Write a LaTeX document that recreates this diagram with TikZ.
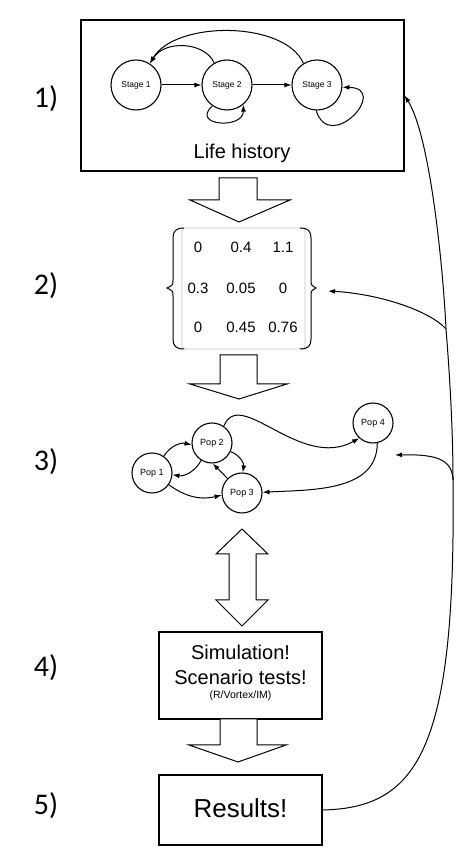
\documentclass[tikz,border=0pt]{standalone}
\usepackage{fontspec}
\setmainfont{Liberation Sans}
\newfontfamily\labelfont{Carlito}
\usetikzlibrary{arrows.meta}

\tikzset{
  stage/.style={circle, draw, line width=1.1pt, minimum size=50pt, inner sep=0pt, font=\fontsize{8.5}{10}\selectfont},
  pop/.style={circle, draw, line width=1.1pt, minimum size=40pt, inner sep=0pt, font=\fontsize{9}{10}\selectfont},
  panel/.style={draw, line width=1.1pt, inner sep=0pt},
  hollow/.style={draw, line width=1pt, fill=white, line join=miter},
  steplabel/.style={font=\labelfont\fontsize{30}{32}\selectfont},
  entry/.style={font=\fontsize{15}{16}\selectfont},
}

\begin{document}
\begin{tikzpicture}[x=1pt, y=1pt, >={Latex[length=7pt,width=5pt]}, line width=1pt]
\useasboundingbox (0,0) rectangle (474,866);

% Step numbers
\node[steplabel] (n1) at (46,767) {1)};
\node[steplabel] (n2) at (46,580) {2)};
\node[steplabel] (n3) at (46,404) {3)};
\node[steplabel] (n4) at (46,198) {4)};
\node[steplabel] (n5) at (46,60) {5)};

% Life history
\node[panel, minimum width=323pt, minimum height=151pt] (lh) at (242.5,770.5) {};
\node[font=\fontsize{20}{22}\selectfont] (lhtext) at (242,713) {Life history};
\node[stage] (s1) at (136,781) {Stage 1};
\node[stage] (s2) at (227,781) {Stage 2};
\node[stage] (s3) at (317,781) {Stage 3};
\draw[->] (s1) -- (s2);
\draw[->] (s2) -- (s3);
\draw[->] (s2.120) .. controls +(-9.5,21) and +(15,24) .. (s1.57);
\draw[->] (s3.122) .. controls +(-19,43) and +(25,43) .. (s1.57);
\draw[->] (s2.235) .. controls +(-22,-20) and +(0,-25) .. (s2.-50);
\draw[->] (s3.-92) .. controls +(14,-44) and +(48,-1) .. (s3.-5);

% Hollow arrow down
\draw[hollow] (219,688) -- (257,688) -- (257,666) -- (290,666) -- (239,644) -- (190,666) -- (219,666) -- cycle;

% Matrix
\node[draw=gray!45, line width=0.8pt, rounded corners=3pt, minimum width=123pt, minimum height=121pt] (mat) at (243.5,577.5) {};
\foreach \v/\x/\y/\n in {0/198/619/m11, 0.4/241/619/m12, 1.1/283/619/m13,
                         0.3/198/578/m21, 0.05/241/578/m22, 0/283/578/m23,
                         0/198/539/m31, 0.45/241/539/m32, 0.76/283/539/m33}
  \node[entry] (\n) at (\x,\y) {\v};
% Braces
\draw (184,638) .. controls (176,638) and (173,635) .. (173,628) -- (173,586) .. controls (173,581) .. (167,578) .. controls (173,575) .. (173,570) -- (173,527) .. controls (173,520) and (176,517) .. (184,517);
\draw (300,638) .. controls (308,638) and (311,635) .. (311,628) -- (311,586) .. controls (311,581) .. (316,578) .. controls (311,575) .. (311,570) -- (311,527) .. controls (311,520) and (308,517) .. (300,517);

% Hollow arrow down
\draw[hollow] (220,511) -- (257,511) -- (257,482) -- (287,482) -- (239,467) -- (190,482) -- (220,482) -- cycle;

% Populations
\node[pop] (p1) at (152,393) {Pop 1};
\node[pop] (p2) at (212,423) {Pop 2};
\node[pop] (p3) at (242,373) {Pop 3};
\node[pop] (p4) at (373,443) {Pop 4};
\draw[->] (p1.55) to[bend left=35] (p2.185);
\draw[->] (p2.238) to[bend left=35] (p1.-5);
\draw[->] (p2.-25) to[bend left=40] (p3.88);
\draw[->] (p3.135) -- (p2.-88);
\draw[->] (p1.-35) to[bend right=25] (p3.186);
\draw[->] (p2.55) .. controls (240,480) and (300,395) .. (p4.228);
\draw[->] (p4.-78) to[out=-90, in=3] (p3.2);

% Double hollow arrow
\draw[hollow] (242,337) -- (268,312) -- (256,312) -- (256,266) -- (268,266) -- (242,240) -- (216,266) -- (229,266) -- (229,312) -- (216,312) -- cycle;

% Simulation
\node[panel, minimum width=163pt, minimum height=87pt] (sim) at (240.5,190.5) {};
\node[font=\fontsize{20}{22}\selectfont] (simtext) at (240.5,214) {Simulation!};
\node[font=\fontsize{20}{22}\selectfont] (scentext) at (240.5,189) {Scenario tests!};
\node[font=\fontsize{10.5}{12}\selectfont] (tooltext) at (240.5,170) {(R/Vortex/IM)};

% Hollow arrow down
\draw[hollow] (220,147) -- (257,147) -- (257,121) -- (286,121) -- (238,104) -- (189,121) -- (220,121) -- cycle;

% Results
\node[panel, minimum width=163pt, minimum height=70pt] (res) at (240.5,56) {};
\node[font=\fontsize{26}{28}\selectfont] (restext) at (240.5,58) {Results!};

% Feedback
\coordinate (j2) at (453,386);
\coordinate (j1) at (446,537);
\coordinate (mtip) at (328,575);
\coordinate (ptip) at (395,411);
\draw[->] (res.east) .. controls (420,58) and (456,120) .. (j2) .. controls (453,440) and (449,500) .. (j1) .. controls (443,600) and (430,730) .. (lh.east);
\draw[->] (j1) .. controls (430,555) and (380,572) .. (mtip);
\draw[->] (j2) .. controls (452,405) and (440,412) .. (ptip);
\end{tikzpicture}
\end{document}
